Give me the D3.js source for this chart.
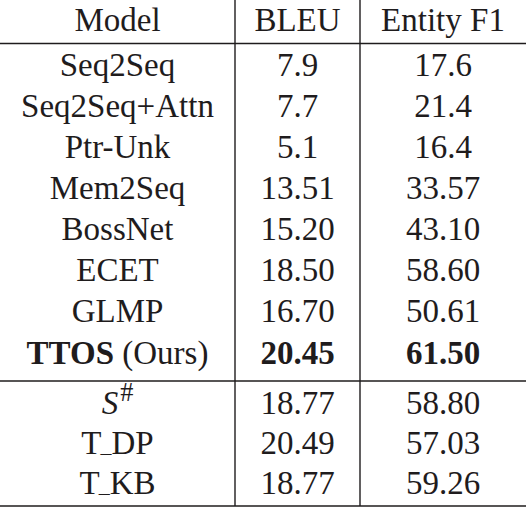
<!DOCTYPE html>
<html>
<head>
<meta charset="utf-8">
<script src="https://cdn.jsdelivr.net/npm/d3@7"></script>
<style>
  html, body { margin: 0; padding: 0; background: #fff; }
  svg text { font-family: "Liberation Serif", "Times New Roman", serif; fill: #1f1c1d; }
</style>
</head>
<body>
<div id="table"></div>
<script>
// data
const columns = ["Model", "BLEU", "Entity F1"];
const models = ["Seq2Seq", "Seq2Seq+Attn", "Ptr-Unk", "Mem2Seq", "BossNet", "ECET", "GLMP", "TTOS", "S#", "T_DP", "T_KB"];
const bleu = ["7.9", "7.7", "5.1", "13.51", "15.20", "18.50", "16.70", "20.45", "18.77", "20.49", "18.77"];
const entityF1 = ["17.6", "21.4", "16.4", "33.57", "43.10", "58.60", "50.61", "61.50", "58.80", "57.03", "59.26"];
const groups = [0, 0, 0, 0, 0, 0, 0, 0, 1, 1, 1];
const best = "TTOS";

const width = 526;
const height = 509;
const fontSize = 33;

const rows = models.map((m, i) => ({ model: m, bleu: bleu[i], f1: entityF1[i], group: groups[i] }));
rows.forEach((d) => { d.pos = rows.filter((r) => r.group == d.group).indexOf(d); });

// scales
const scaleX = d3.scaleOrdinal().domain(columns).range([117.5, 297.5, 443]);
const edges = d3.scaleOrdinal().domain(["left", "c1", "c2", "right"]).range([0, 235, 360, width]);

const groupScales = [
	d3.scaleLinear().domain([0, 7]).range([75.5, 363.5]),
	d3.scaleLinear().domain([0, 2]).range([414, 494])
];
const ruleY = [43.5, 381, 506];

const svg = d3.select("#table")
	.append("svg")
		.attr("width", width)
		.attr("height", height);

// rules
svg.selectAll(".hrule")
	.data(ruleY).enter()
	.append("line")
		.attr("class", "hrule")
		.attr("x1", edges("left"))
		.attr("x2", edges("right"))
		.attr("y1", (d) => d)
		.attr("y2", (d) => d)
		.attr("stroke", "#1f1c1d")
		.attr("stroke-width", 1.6);

svg.selectAll(".vrule")
	.data(["c1", "c2"]).enter()
	.append("line")
		.attr("class", "vrule")
		.attr("x1", (d) => edges(d))
		.attr("x2", (d) => edges(d))
		.attr("y1", 0)
		.attr("y2", ruleY[2])
		.attr("stroke", "#1f1c1d")
		.attr("stroke-width", 1.4);

// header
svg.selectAll(".head")
	.data(columns).enter()
	.append("text")
		.attr("class", "head")
		.attr("x", (d) => scaleX(d))
		.attr("y", 31)
		.attr("text-anchor", "middle")
		.attr("font-size", fontSize)
		.text((d) => d);

// body
const row = svg.selectAll(".row")
	.data(rows).enter()
	.append("g")
		.attr("class", "row")
		.attr("transform", (d) => `translate(0, ${groupScales[d.group](d.pos)})`);

const modelText = row.append("text")
	.attr("x", scaleX("Model"))
	.attr("text-anchor", "middle")
	.attr("font-size", fontSize);

modelText.each(function (d) {
	const t = d3.select(this);
	if (d.model == best) {
		t.append("tspan").attr("font-weight", "bold").text(d.model);
		t.append("tspan").text(" (Ours)");
	} else if (d.model == "S#") {
		t.append("tspan").attr("font-style", "italic").text("S");
		t.append("tspan").attr("font-size", fontSize * 0.8).attr("dx", 2).attr("dy", -13).text("#");
	} else if (d.model.includes("_")) {
		// latex-style short underscore
		const parts = d.model.split("_");
		t.append("tspan").text(parts[0]);
		t.append("tspan").attr("font-size", 22).attr("dx", -1).attr("dy", -2).text("_");
		t.append("tspan").attr("dy", 2).text(parts[1]);
	} else {
		t.text(d.model);
	}
});

row.append("text")
	.attr("x", scaleX("BLEU"))
	.attr("text-anchor", "middle")
	.attr("font-size", fontSize)
	.attr("font-weight", (d) => d.model == best ? "bold" : "normal")
	.text((d) => d.bleu);

row.append("text")
	.attr("x", scaleX("Entity F1"))
	.attr("text-anchor", "middle")
	.attr("font-size", fontSize)
	.attr("font-weight", (d) => d.model == best ? "bold" : "normal")
	.text((d) => d.f1);
</script>
</body>
</html>
